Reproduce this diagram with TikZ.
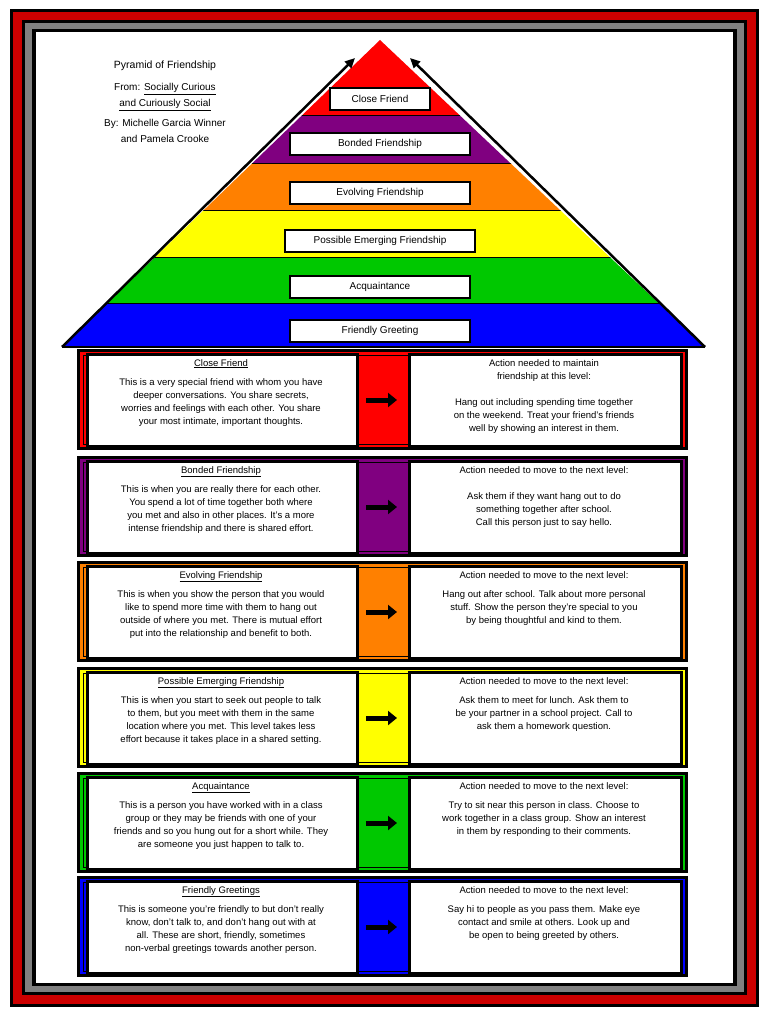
\documentclass[tikz,border=0pt]{standalone}
\usepackage{fontspec}
\setmainfont{Liberation Sans}
\usetikzlibrary{arrows.meta}
\definecolor{cR}{RGB}{255,0,0}
\definecolor{cP}{RGB}{128,0,128}
\definecolor{cO}{RGB}{255,128,0}
\definecolor{cY}{RGB}{255,255,0}
\definecolor{cG}{RGB}{0,200,0}
\definecolor{cB}{RGB}{0,0,255}
\definecolor{fr}{RGB}{205,0,0}
\tikzset{
 lbl/.style={draw=black,line width=1.2pt,fill=white,minimum height=20pt,font=\fontsize{10}{11}\selectfont,inner sep=1pt},
 wbox/.style={draw=black,line width=2.5pt,fill=white},
 txt/.style={align=center,font=\fontsize{9.5}{13}\selectfont,inner sep=0pt},
 midarrow/.style={line width=5pt,-{Triangle[length=9pt,width=14pt]}},
}
\newcommand\fsrow[7]{% name, top, color, title, leftbody, righttext, lgap
 \fill[black] (77,#2) rectangle (688,#2+101);
 \fill[#3] (80,#2+3) rectangle (685,#2+98);
 \draw[black,line width=0.8pt] (83,#2+6) rectangle (682,#2+95);
 \node[wbox,minimum width=270pt,minimum height=92pt,anchor=north west] (#1l) at (86,#2+4) {};
 \node[wbox,minimum width=272pt,minimum height=92pt,anchor=north west] (#1r) at (408,#2+4) {};
 \node[txt,anchor=north] (#1lt) at (221,#2+10) {\underline{#4}\\[#7]#5};
 \node[txt,anchor=north] (#1rt) at (544,#2+10) {#6};
 \coordinate (#1a) at (366,#2+51);
 \coordinate (#1b) at (397,#2+51);
 \draw[midarrow] (#1a) -- (#1b);
}
\begin{document}
\begin{tikzpicture}[x=1pt,y=-1pt]
\useasboundingbox (0,0) rectangle (768,1024);
\fill[white] (0,0) rectangle (768,1024);
% frame
\fill[black] (10,9) rectangle (759,1007);
\fill[fr] (13,12) rectangle (756,1004);
\fill[black] (22,20) rectangle (747,995);
\fill[gray] (25,23) rectangle (744,992);
\fill[black] (32,29) rectangle (737,986);
\fill[white] (36,32) rectangle (733,983);
% header
\node[font=\fontsize{10.5}{13}\selectfont,align=center] (hd1) at (165,66) {Pyramid of Friendship};
\node[font=\fontsize{10}{15.5}\selectfont,align=center,anchor=north] (hd2) at (165,80) {From: \underline{Socially Curious}\\\underline{and Curiously Social}};
\node[font=\fontsize{10}{15.5}\selectfont,align=center,anchor=north] (hd3) at (165,116) {By: Michelle Garcia Winner\\and Pamela Crooke};
% pyramid
\begin{scope}
\clip (380,40) -- (705,347) -- (62,347) -- cycle;
\fill[cR] (0,0) rectangle (768,115);
\fill[cP] (0,115) rectangle (768,163);
\fill[cO] (0,163) rectangle (768,210);
\fill[cY] (0,210) rectangle (768,257);
\fill[cG] (0,257) rectangle (768,303);
\fill[cB] (0,303) rectangle (768,348);
\foreach \yy in {115,163,210,257,303} \draw[black,line width=0.8pt] (0,\yy) -- (768,\yy);
\end{scope}
\coordinate (bl) at (62,347);
\coordinate (br) at (705,347);
\coordinate (tl) at (355,58);
\coordinate (tr) at (410,58);
\draw[line width=2.5pt,-{Triangle[length=10pt,width=9pt]}] (bl) -- (tl);
\draw[line width=2.5pt,-{Triangle[length=10pt,width=9pt]}] (br) -- (tr);
\draw[line width=1.5pt] (bl) -- (br);
\node[lbl,minimum width=100pt,minimum height=22pt] (p1) at (380,99) {Close Friend};
\node[lbl,minimum width=180pt,minimum height=22pt] (p2) at (380,144) {Bonded Friendship};
\node[lbl,minimum width=180pt,minimum height=22pt] (p3) at (380,193) {Evolving Friendship};
\node[lbl,minimum width=190pt,minimum height=22pt] (p4) at (380,241) {Possible Emerging Friendship};
\node[lbl,minimum width=180pt,minimum height=22pt] (p5) at (380,287) {Acquaintance};
\node[lbl,minimum width=180pt,minimum height=22pt] (p6) at (380,331) {Friendly Greeting};
% rows
\fsrow{r1}{349}{cR}{Close Friend}{This is a very special friend with whom you have\\deeper conversations. You share secrets,\\worries and feelings with each other. You share\\your most intimate, important thoughts.}{Action needed to maintain\\friendship at this level:\\[13pt]Hang out including spending time together\\on the weekend. Treat your friend's friends\\well by showing an interest in them.}{6pt}
\fsrow{r2}{456}{cP}{Bonded Friendship}{This is when you are really there for each other.\\You spend a lot of time together both where\\you met and also in other places. It's a more\\intense friendship and there is shared effort.}{Action needed to move to the next level:\\[13pt]Ask them if they want hang out to do\\something together after school.\\Call this person just to say hello.}{6pt}
\fsrow{r3}{561}{cO}{Evolving Friendship}{This is when you show the person that you would\\like to spend more time with them to hang out\\outside of where you met. There is mutual effort\\put into the relationship and benefit to both.}{Action needed to move to the next level:\\[6pt]Hang out after school. Talk about more personal\\stuff. Show the person they're special to you\\by being thoughtful and kind to them.}{6pt}
\fsrow{r4}{667}{cY}{Possible Emerging Friendship}{This is when you start to seek out people to talk\\to them, but you meet with them in the same\\location where you met. This level takes less\\effort because it takes place in a shared setting.}{Action needed to move to the next level:\\[6pt]Ask them to meet for lunch. Ask them to\\be your partner in a school project. Call to\\ask them a homework question.}{6pt}
\fsrow{r5}{772}{cG}{Acquaintance}{This is a person you have worked with in a class\\group or they may be friends with one of your\\friends and so you hung out for a short while. They\\are someone you just happen to talk to.}{Action needed to move to the next level:\\[6pt]Try to sit near this person in class. Choose to\\work together in a class group. Show an interest\\in them by responding to their comments.}{6pt}
\fsrow{r6}{876}{cB}{Friendly Greetings}{This is someone you're friendly to but don't really\\know, don't talk to, and don't hang out with at\\all. These are short, friendly, sometimes\\non-verbal greetings towards another person.}{Action needed to move to the next level:\\[6pt]Say hi to people as you pass them. Make eye\\contact and smile at others. Look up and\\be open to being greeted by others.}{6pt}
\end{tikzpicture}
\end{document}
